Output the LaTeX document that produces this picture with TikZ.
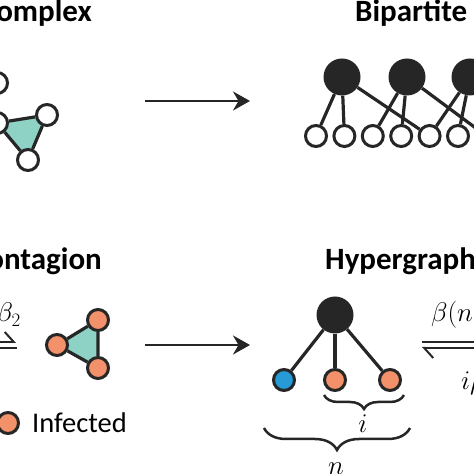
\documentclass[tikz,border=0pt]{standalone}
\usepackage{fix-cm}
\usepackage{fontspec}
\setmainfont{Carlito}
\usepackage{tikz}
\usetikzlibrary{arrows.meta,decorations.pathreplacing,backgrounds}
\definecolor{ink}{RGB}{38,38,38}
\definecolor{simplex}{RGB}{141,210,197}
\definecolor{infect}{RGB}{243,145,106}
\definecolor{suscept}{RGB}{38,155,213}

\begin{document}
\begin{tikzpicture}[x=1pt,y=1pt,
        plain/.style={circle,draw=ink,line width=3pt,fill=white,minimum size=21pt,inner sep=0pt},
        hub/.style={circle,fill=ink,minimum size=37pt,inner sep=0pt},
        inf/.style={plain,fill=infect},
        sus/.style={plain,fill=suscept},
        link/.style={draw=ink,line width=3.2pt},
        title/.style={font=\fontsize{31}{37}\selectfont\bfseries,inner sep=0pt},
        lbl/.style={font=\fontsize{27}{32}\selectfont,inner sep=0pt},
        flow/.style={draw=ink,line width=2.5pt,-{Stealth[length=17pt,width=19pt]}},
        harp/.style={draw=ink,line width=2pt,-{Straight Barb[harpoon,length=9pt,width=20pt]}}]
        \useasboundingbox (0,0) rectangle (474,474);
        \clip (0,0) rectangle (474,474);
        \node[title,anchor=base east] (cxtitle) at (92,452) {Complex};
        \node[plain] (c1) at (-3,391) {};
        \node[plain] (c2) at (-3,351) {};
        \node[plain] (c3) at (47,359) {};
        \node[plain] (c4) at (28,314) {};
        \begin{scope}[on background layer]
            \fill[simplex] (c2.center) -- (c3.center) -- (c4.center) -- cycle;
            \draw[link] (c2) -- (c3) -- (c4) -- (c2);
        \end{scope}
        \coordinate (top1) at (145,373);
        \coordinate (top2) at (250,373);
        \draw[flow] (top1) -- (top2);
        \node[title,anchor=base west] (bptitle) at (355,452) {Bipartite};
        \foreach \i/\x in {1/342,2/407,3/470}
            \node[hub] (b\i) at (\x,397) {};
        \foreach \j in {1,...,7}
            \node[plain] (w\j) at (316+28.4*\j-28.4,338) {};
        \begin{scope}[on background layer]
            \foreach \i/\j in {1/1,1/2,1/5,2/3,2/4,2/7,3/5,3/6}
                \draw[link] (b\i) -- (w\j);
        \end{scope}
        \node[title,anchor=base east] (cttitle) at (102,204) {Contagion};
        \coordinate (hl1) at (-20,132);
        \coordinate (hl2) at (16,132);
        \coordinate (hl3) at (17,126);
        \coordinate (hl4) at (-20,126);
        \draw[harp] (hl1) -- (hl2);
        \draw[harp] (hl3) -- (hl4);
        \node[lbl,anchor=base east] (b2lbl) at (21,152) {$\beta_2$};
        \node[inf] (o1) at (57,129) {};
        \node[inf] (o2) at (98,154) {};
        \node[inf] (o3) at (98,106) {};
        \begin{scope}[on background layer]
            \fill[simplex] (o1.center) -- (o2.center) -- (o3.center) -- cycle;
            \draw[link] (o1) -- (o2) -- (o3) -- (o1);
        \end{scope}
        \node[inf] (key) at (8,51) {};
        \node[font=\fontsize{28.5}{34}\selectfont,inner sep=0pt,anchor=base west] (keytext) at (32,41) {Infected};
        \coordinate (bot1) at (145,129);
        \coordinate (bot2) at (250,129);
        \draw[flow] (bot1) -- (bot2);
        \node[title,anchor=base west] (hgtitle) at (325,204) {Hypergraph};
        \node[hub] (h) at (335,159) {};
        \node[sus] (s1) at (284,94) {};
        \node[inf] (i1) at (335,94) {};
        \node[inf] (i2) at (390,94) {};
        \begin{scope}[on background layer]
            \foreach \k in {s1,i1,i2}
                \draw[link] (h) -- (\k);
        \end{scope}
        \draw[ink,line width=2.5pt,decorate,decoration={brace,mirror,amplitude=14pt}] (324,79) -- (404,79);
        \node[lbl,anchor=base] (ilbl) at (363,41) {$i$};
        \draw[ink,line width=2.5pt,decorate,decoration={brace,mirror,amplitude=22pt}] (264,46) -- (410,46);
        \node[lbl,anchor=base] (nlbl) at (336,0) {$n$};
        \coordinate (hr1) at (422,132);
        \coordinate (hr2) at (560,132);
        \coordinate (hr3) at (560,126);
        \coordinate (hr4) at (422,126);
        \draw[harp] (hr1) -- (hr2);
        \draw[harp] (hr3) -- (hr4);
        \node[lbl,anchor=base west] (rate) at (431,152) {$\beta(n,i)$};
        \node[lbl,anchor=base west] (recov) at (461,84) {$i\mu$};
\end{tikzpicture}
\end{document}
